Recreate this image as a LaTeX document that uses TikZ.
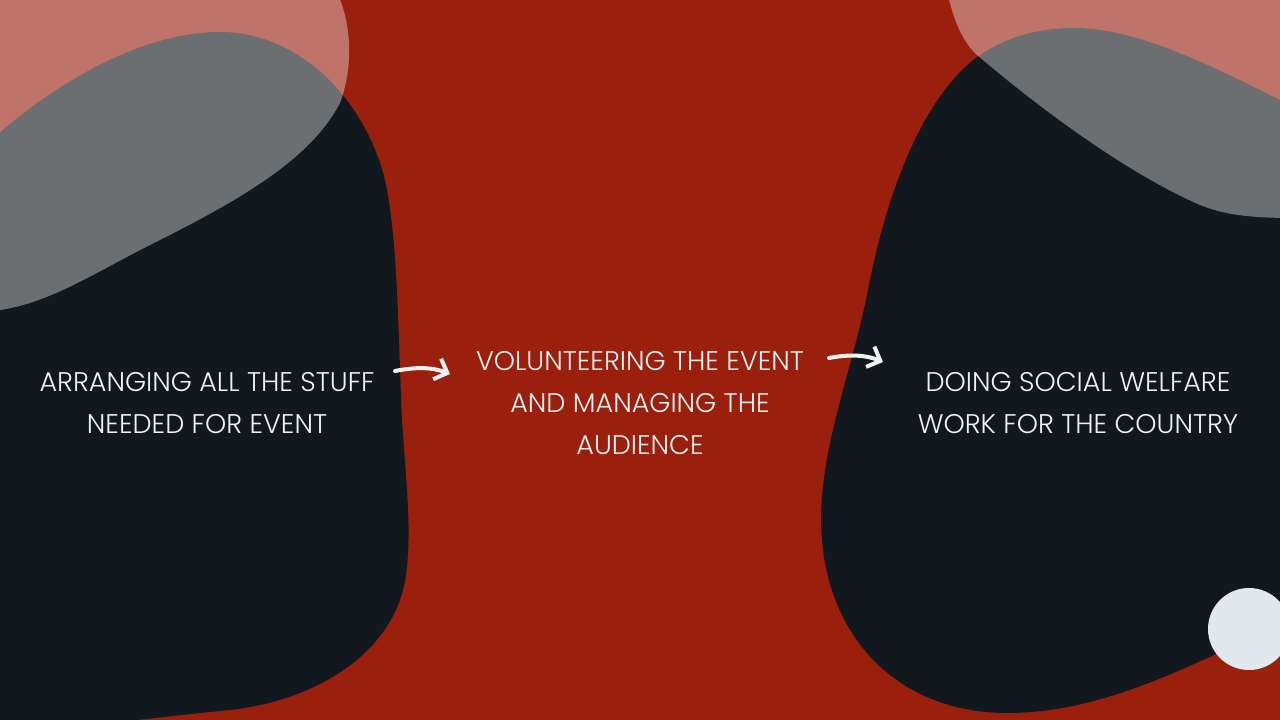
\documentclass[tikz,border=0pt]{standalone}
\usepackage{fontspec}
\setmainfont{Poppins}[UprightFont={* Light}]
\usetikzlibrary{arrows.meta}
\definecolor{bgred}{HTML}{9A200D}
\definecolor{blobdark}{HTML}{12191E}
\definecolor{dotcol}{HTML}{E1E8EE}
\definecolor{txt}{HTML}{F2F2F2}
\tikzset{
  darkblob/.style={fill=blobdark},
  paleblob/.style={fill=white, fill opacity=0.375},
  label/.style={text=txt, align=center, font=\fontsize{27}{42}\selectfont, inner sep=0pt},
  arr/.style={draw=txt, line width=4pt, line cap=round,
    -{Straight Barb[length=11pt,width=22pt,line width=4pt]}}
}
\begin{document}
\begin{tikzpicture}[x=1pt,y=-1pt]
\useasboundingbox (0,0) rectangle (1280,720);
\fill[bgred] (0,0) rectangle (1280,720);
\begin{scope}
\clip (0,0) rectangle (1280,720);
% left dark blob
\fill[darkblob] (-20,150) .. controls (50,85) and (140,32) .. (220,32)
  .. controls (300,32) and (365,100) .. (385,180)
  .. controls (398,240) and (398,330) .. (402,420)
  .. controls (406,480) and (412,530) .. (406,575)
  .. controls (396,650) and (320,700) .. (230,710)
  .. controls (150,718) and (50,730) .. (-20,740) -- cycle;
% right dark blob
\fill[darkblob] (977,57) .. controls (1005,38) and (1035,28) .. (1075,28)
  .. controls (1140,28) and (1220,70) .. (1300,110)
  -- (1300,615)
  .. controls (1200,660) and (1110,712) .. (1010,713)
  .. controls (900,714) and (830,640) .. (822,540)
  .. controls (815,460) and (850,380) .. (868,290)
  .. controls (885,200) and (920,100) .. (977,57) -- cycle;
% left pale blob
\fill[paleblob] (-20,-20) -- (330,-20)
  .. controls (350,10) and (356,60) .. (340,103)
  .. controls (310,160) and (240,200) .. (150,245)
  .. controls (90,275) and (40,310) .. (-20,312) -- cycle;
% right pale blob
\fill[paleblob] (945,-20) .. controls (950,10) and (960,40) .. (977,55)
  .. controls (1030,100) and (1120,170) .. (1200,205)
  .. controls (1230,217) and (1260,218) .. (1300,218)
  -- (1300,-20) -- cycle;
% dot
\fill[dotcol] (1249,629) circle[radius=41];
\end{scope}
\node[label] (t1) at (207,403) {ARRANGING ALL THE STUFF\\NEEDED FOR EVENT};
\node[label] (t2) at (640,403) {VOLUNTEERING THE EVENT\\AND MANAGING THE\\AUDIENCE};
\node[label] (t3) at (1078,403) {DOING SOCIAL WELFARE\\WORK FOR THE COUNTRY};
\coordinate (a1s) at (395,371);
\coordinate (a1e) at (450,374);
\coordinate (a2s) at (829,358);
\coordinate (a2e) at (883,362);
\draw[arr] (a1s) .. controls (415,367) and (432,367) .. (a1e);
\draw[arr] (a2s) .. controls (850,354) and (866,355) .. (a2e);
\end{tikzpicture}
\end{document}
